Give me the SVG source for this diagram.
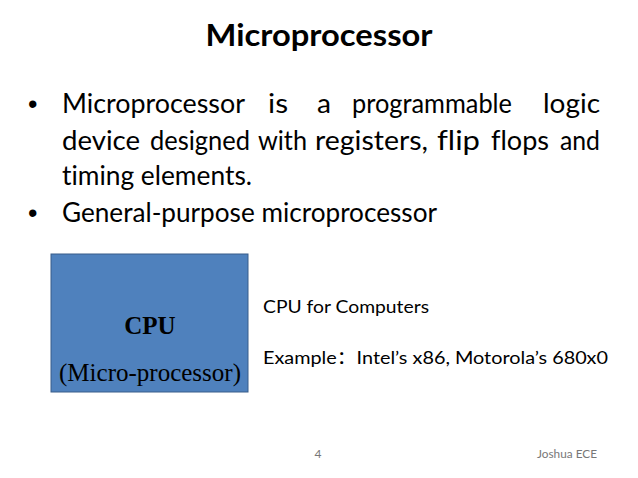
<svg xmlns="http://www.w3.org/2000/svg" width="638" height="478" viewBox="0 0 638 478">
<style>
text{font-variant-ligatures:none;font-feature-settings:"liga" 0}
.b{font-family:Lato,"Open Sans","Liberation Sans",sans-serif;font-size:26px;fill:#000}
.d{font-family:"Liberation Sans",sans-serif;font-size:27px;fill:#000}
.s{font-family:Lato,"Open Sans","Liberation Sans","Noto Sans CJK SC",sans-serif;font-size:18px;fill:#000}
.r{font-family:"Liberation Serif",serif;font-size:25px;fill:#000;text-anchor:middle}
.f{font-family:Lato,"Liberation Sans",sans-serif;font-size:12px;fill:#777}
</style>
<rect width="638" height="478" fill="#fff"/>
<text x="319" y="46" text-anchor="middle" font-family="Lato,'Open Sans','Liberation Sans',sans-serif" font-weight="bold" font-size="30" textLength="227" lengthAdjust="spacingAndGlyphs">Microprocessor</text>
<g id="bullets">
<text class="d" x="28" y="113">•</text>
<text class="b" x="62" y="113" textLength="183" lengthAdjust="spacingAndGlyphs">Microprocessor</text>
<text class="b" x="268" y="113" textLength="20" lengthAdjust="spacingAndGlyphs">is</text>
<text class="b" x="317" y="113" textLength="14" lengthAdjust="spacingAndGlyphs">a</text>
<text class="b" x="352" y="113" textLength="160" lengthAdjust="spacingAndGlyphs">programmable</text>
<text class="b" x="543" y="113" textLength="57" lengthAdjust="spacingAndGlyphs">logic</text>
<text class="b" x="62" y="150" textLength="78" lengthAdjust="spacingAndGlyphs">device</text>
<text class="b" x="150" y="150" textLength="100" lengthAdjust="spacingAndGlyphs">designed</text>
<text class="b" x="258" y="150" textLength="49" lengthAdjust="spacingAndGlyphs">with</text>
<text class="b" x="315" y="150" textLength="113" lengthAdjust="spacingAndGlyphs">registers,</text>
<text class="b" x="437" y="150" textLength="43" lengthAdjust="spacingAndGlyphs">f&#x200C;lip</text>
<text class="b" x="491" y="150" textLength="58" lengthAdjust="spacingAndGlyphs">f&#x200C;lops</text>
<text class="b" x="560" y="150" textLength="40" lengthAdjust="spacingAndGlyphs">and</text>
<text class="b" x="62" y="185" textLength="190" lengthAdjust="spacingAndGlyphs">timing elements.</text>
<text class="d" x="28" y="222">•</text>
<text class="b" x="62" y="222" textLength="375" lengthAdjust="spacingAndGlyphs">General-purpose microprocessor</text>
</g>
<g id="cpu">
<rect x="51" y="254" width="197" height="138" fill="#4F81BD" stroke="#385D8A" stroke-width="1"/>
<text class="r" x="150" y="334" font-weight="bold">CPU</text>
<text class="r" x="150" y="381" textLength="182" lengthAdjust="spacingAndGlyphs">(Micro-processor)</text>
</g>
<g id="labels">
<text class="s" x="263" y="313" textLength="166" lengthAdjust="spacingAndGlyphs">CPU for Computers</text>
<text class="s" x="263" y="364" textLength="345" lengthAdjust="spacingAndGlyphs">Example：Intel’s x86, Motorola’s 680x0</text>
</g>
<g id="connectors"/>
<text class="f" x="318" y="458" text-anchor="middle">4</text>
<text class="f" x="537" y="458" textLength="60" lengthAdjust="spacingAndGlyphs">Joshua ECE</text>
</svg>
